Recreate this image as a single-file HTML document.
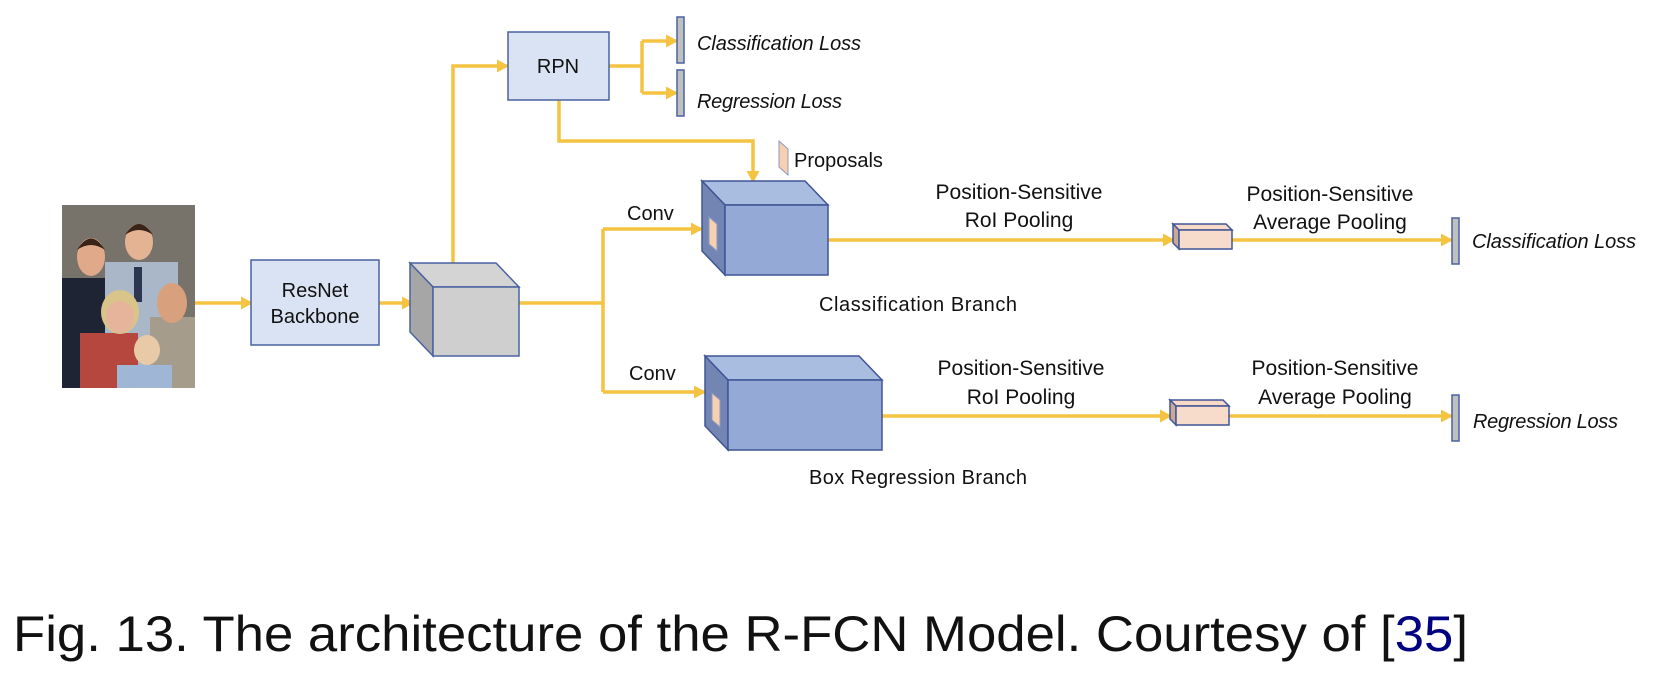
<!DOCTYPE html>
<html><head><meta charset="utf-8"><style>
html,body{margin:0;padding:0;background:#fff;}
svg{display:block;}
text{font-family:"Liberation Sans",sans-serif;fill:#111;}
</style></head><body>
<svg width="1660" height="679" viewBox="0 0 1660 679" xmlns="http://www.w3.org/2000/svg">
<defs>
<marker id="ah" markerWidth="12" markerHeight="13" refX="10" refY="6.5" orient="auto" markerUnits="userSpaceOnUse">
<path d="M0,0 L12,6.5 L0,13 Z" fill="#f5c342"/>
</marker>
</defs>
<!-- photo -->
<g transform="translate(62,205)">
<rect width="133" height="183" fill="#77726a"/>
<rect x="0" y="73" width="50" height="110" fill="#1e2433"/>
<rect x="43" y="57" width="73" height="126" fill="#a9b7c8"/>
<rect x="72" y="62" width="8" height="35" fill="#2d3650"/>
<rect x="88" y="112" width="45" height="71" fill="#a59c8c"/>
<rect x="18" y="128" width="58" height="55" fill="#b5473e"/>
<rect x="55" y="160" width="55" height="23" fill="#9fb6d6"/>
<ellipse cx="29" cy="52" rx="14" ry="19" fill="#e0a98a"/>
<path d="M15,45 Q29,22 43,45 Q29,35 15,45Z" fill="#3a2418"/>
<ellipse cx="77" cy="37" rx="14" ry="18" fill="#e3b394"/>
<path d="M63,30 Q77,8 91,30 Q77,20 63,30Z" fill="#3a2418"/>
<ellipse cx="110" cy="98" rx="15" ry="20" fill="#d9a07e"/>
<ellipse cx="58" cy="107" rx="19" ry="22" fill="#d9c48a"/>
<ellipse cx="58" cy="112" rx="14" ry="16" fill="#e6b49a"/>
<ellipse cx="85" cy="145" rx="13" ry="15" fill="#e8c9a8"/>
</g>
<!-- connectors -->
<g stroke="#f5c342" stroke-width="3.5" fill="none">
<line x1="195" y1="303" x2="251" y2="303" marker-end="url(#ah)"/>
<line x1="379" y1="303" x2="412" y2="303" marker-end="url(#ah)"/>
<polyline points="453,263 453,66 507,66" marker-end="url(#ah)"/>
<polyline points="609,66 642,66"/>
<polyline points="642,41 642,93"/>
<line x1="642" y1="41" x2="676" y2="41" marker-end="url(#ah)"/>
<line x1="642" y1="93" x2="676" y2="93" marker-end="url(#ah)"/>
<polyline points="559,100 559,141 753,141 753,181" marker-end="url(#ah)"/>
<polyline points="519,303 603,303"/>
<polyline points="603,229 603,392"/>
<line x1="603" y1="229" x2="701" y2="229" marker-end="url(#ah)"/>
<line x1="603" y1="392" x2="704" y2="392" marker-end="url(#ah)"/>
<line x1="828" y1="240" x2="1173" y2="240" marker-end="url(#ah)"/>
<line x1="882" y1="416" x2="1170" y2="416" marker-end="url(#ah)"/>
<line x1="1232" y1="240" x2="1451" y2="240" marker-end="url(#ah)"/>
<line x1="1229" y1="416" x2="1451" y2="416" marker-end="url(#ah)"/>
</g>
<!-- boxes -->
<rect x="251" y="260" width="128" height="85" fill="#dae3f3" stroke="#4a62a0" stroke-width="1.5"/>
<text x="315" y="297" font-size="20" text-anchor="middle">ResNet</text>
<text x="315" y="323" font-size="20" text-anchor="middle">Backbone</text>
<rect x="508" y="32" width="101" height="68" fill="#dae3f3" stroke="#4a62a0" stroke-width="1.5"/>
<text x="558" y="73" font-size="20" text-anchor="middle">RPN</text>
<!-- gray cube -->
<g stroke="#4a62a0" stroke-width="1.5">
<polygon points="410,263 496,263 519,287 433,287" fill="#d4d4d4"/>
<polygon points="410,263 433,287 433,356 410,332" fill="#a6a6a6"/>
<rect x="433" y="287" width="86" height="69" fill="#cfcfcf"/>
</g>
<!-- blue cube 1 -->
<g stroke="#3f5596" stroke-width="1.5">
<polygon points="702,181 805,181 828,205 725,205" fill="#a9bde0"/>
<polygon points="702,181 725,205 725,275 702,251" fill="#7386b3"/>
<rect x="725" y="205" width="103" height="70" fill="#94a9d6"/>
<polygon points="709,217 717,224 717,251 709,244" fill="#f8cfb0" stroke="#8a9ac0" stroke-width="1"/>
</g>
<!-- blue cube 2 -->
<g stroke="#3f5596" stroke-width="1.5">
<polygon points="705,356 859,356 882,380 728,380" fill="#a9bde0"/>
<polygon points="705,356 728,380 728,450 705,426" fill="#7386b3"/>
<rect x="728" y="380" width="154" height="70" fill="#94a9d6"/>
<polygon points="712,393 720,400 720,427 712,420" fill="#f8cfb0" stroke="#8a9ac0" stroke-width="1"/>
</g>
<!-- proposals -->
<polygon points="779,141 788,149 788,175 779,167" fill="#f8cfb0" stroke="#8a9ac0" stroke-width="1"/>
<text x="794" y="167" font-size="20">Proposals</text>
<!-- pooling boxes -->
<g stroke="#3f5596" stroke-width="1.5">
<polygon points="1173,224 1226,224 1232,230 1179,230" fill="#f8d9c8"/>
<polygon points="1173,224 1179,230 1179,249 1173,243" fill="#c9aa98"/>
<rect x="1179" y="230" width="53" height="19" fill="#f8dccb"/>
<polygon points="1170,400 1223,400 1229,406 1176,406" fill="#f8d9c8"/>
<polygon points="1170,400 1176,406 1176,425 1170,419" fill="#c9aa98"/>
<rect x="1176" y="406" width="53" height="19" fill="#f8dccb"/>
</g>
<!-- loss bars -->
<g fill="#c0c0c0" stroke="#4a62a0" stroke-width="1.5">
<rect x="677" y="17" width="7" height="46"/>
<rect x="677" y="70" width="7" height="46"/>
<rect x="1452" y="218" width="7" height="46"/>
<rect x="1452" y="395" width="7" height="46"/>
</g>
<!-- labels -->
<g font-size="20">
<text x="697" y="50" font-style="italic" textLength="164">Classification Loss</text>
<text x="697" y="108" font-style="italic" textLength="145">Regression Loss</text>
<text x="1472" y="248" font-style="italic" textLength="164">Classification Loss</text>
<text x="1473" y="428" font-style="italic" textLength="145">Regression Loss</text>
<text x="627" y="220">Conv</text>
<text x="629" y="380">Conv</text>
<text x="819" y="311" textLength="198">Classification Branch</text>
<text x="809" y="484" textLength="218">Box Regression Branch</text>
</g>
<g font-size="21">
<text x="1019" y="199" text-anchor="middle">Position-Sensitive</text>
<text x="1019" y="227" text-anchor="middle">RoI Pooling</text>
<text x="1021" y="375" text-anchor="middle">Position-Sensitive</text>
<text x="1021" y="404" text-anchor="middle">RoI Pooling</text>
<text x="1330" y="201" text-anchor="middle">Position-Sensitive</text>
<text x="1330" y="229" text-anchor="middle">Average Pooling</text>
<text x="1335" y="375" text-anchor="middle">Position-Sensitive</text>
<text x="1335" y="404" text-anchor="middle">Average Pooling</text>
</g>
<text x="13" y="651" font-size="50" textLength="1455" lengthAdjust="spacingAndGlyphs">Fig. 13. The architecture of the R-FCN Model. Courtesy of [<tspan fill="#000080">35</tspan>]</text>
</svg>
</body></html>
